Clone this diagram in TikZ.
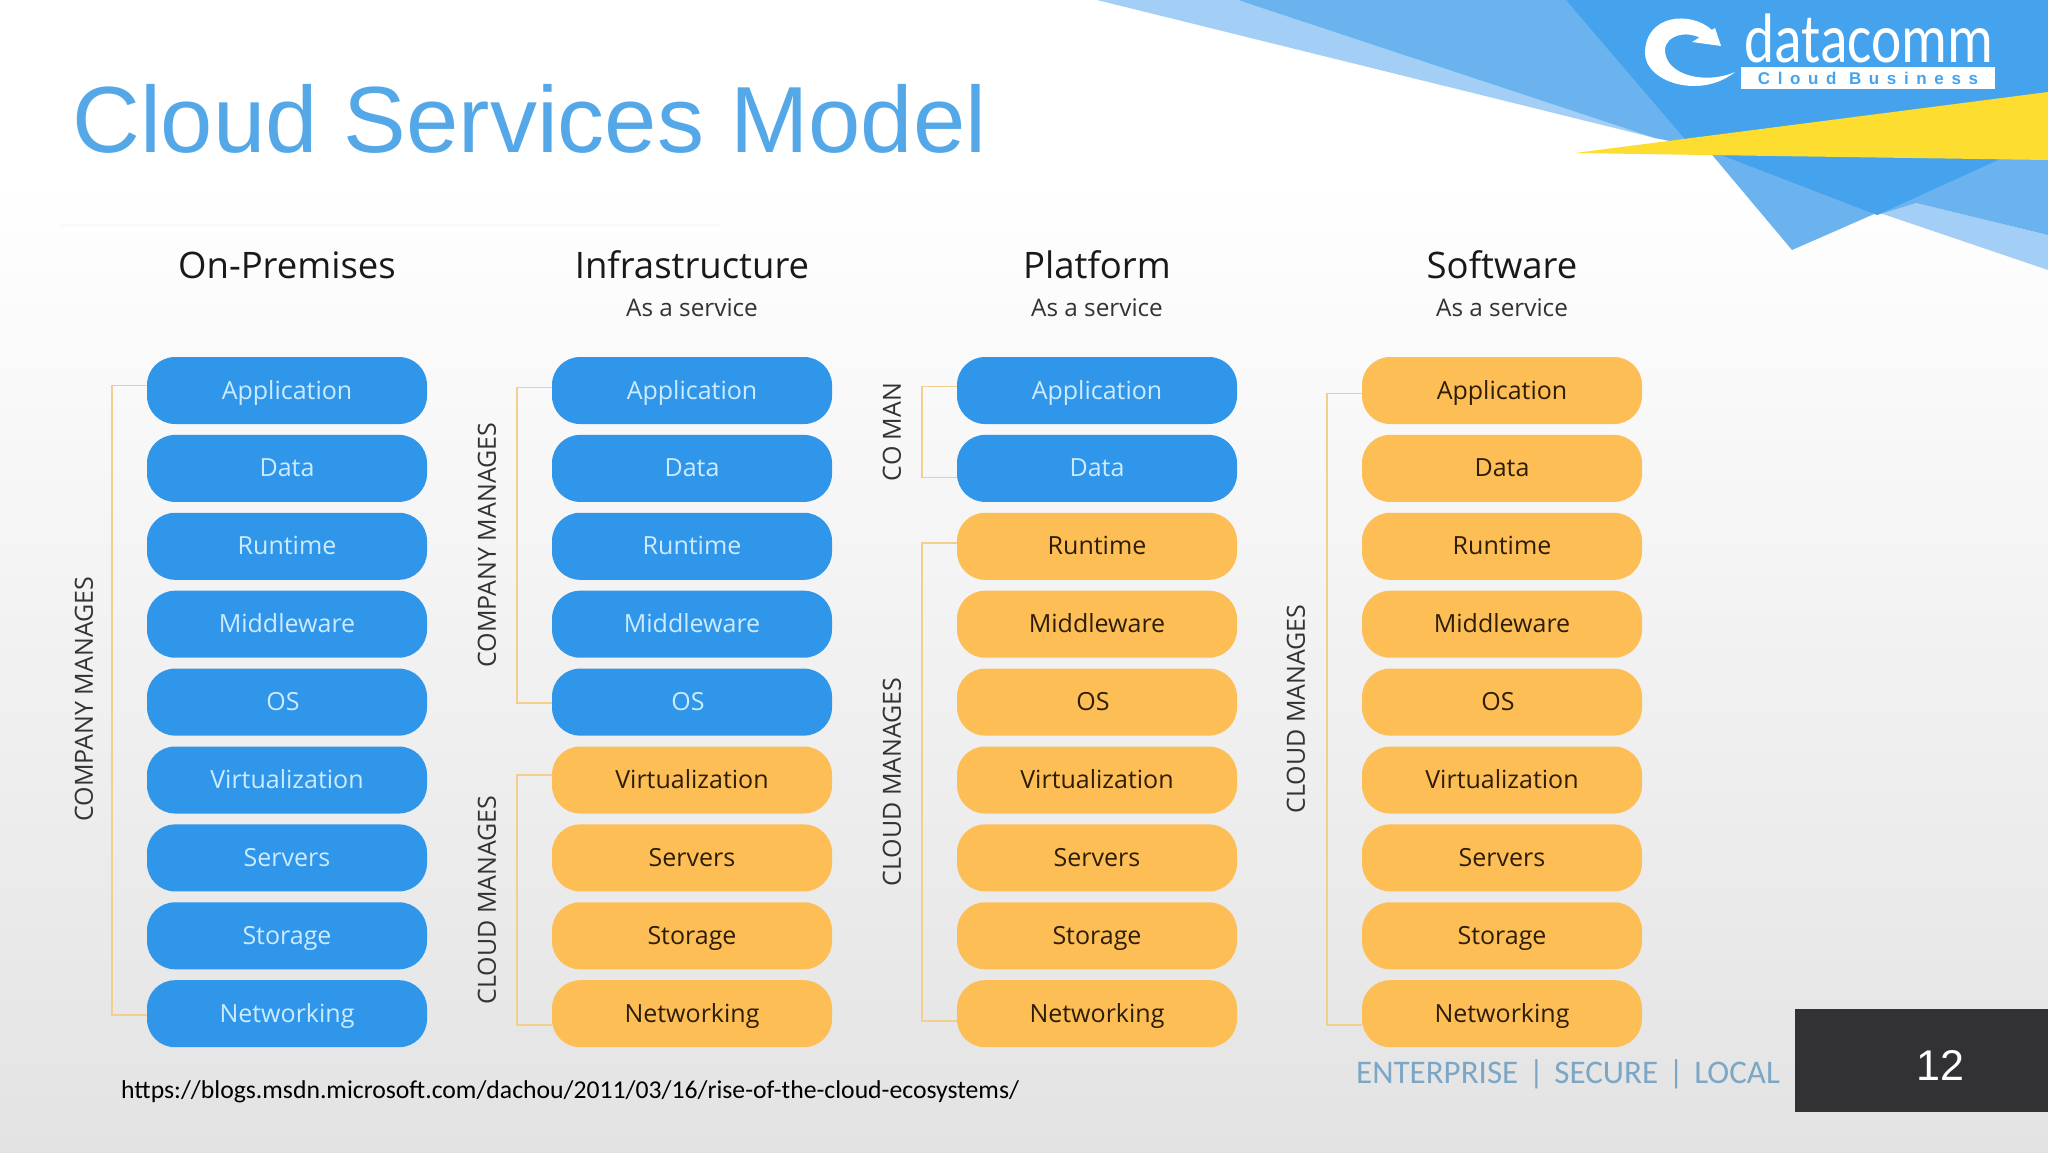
\documentclass[tikz,border=0pt]{standalone}
\usepackage{fontspec}
\setmainfont{Open Sans}
\newfontfamily\titlefont{Liberation Sans}
\newfontfamily\calfont{Carlito}
\newfontfamily\spacedfont[LetterSpace=45]{Liberation Sans}
\usetikzlibrary{calc}
\definecolor{pblue}{HTML}{3096EA}
\definecolor{porange}{HTML}{FDBF55}
\definecolor{ptextblue}{HTML}{CDEBFF}
\definecolor{ptextdark}{HTML}{2E1D08}
\definecolor{brcol}{HTML}{F3CE8E}
\definecolor{tbase}{HTML}{44A3EC}
\definecolor{tmid}{HTML}{6BB3EE}
\definecolor{tlight}{HTML}{A3CFF6}
\definecolor{tyellow}{HTML}{FDDD30}
\definecolor{titleblue}{HTML}{55A8E8}
\definecolor{footblue}{HTML}{7BA6C6}
\definecolor{numbox}{HTML}{323234}
\tikzset{
  x=1pt,y=-1pt,
  pill/.style={rounded corners=28pt,minimum width=280pt,minimum height=67pt,inner sep=0pt,text height=21pt,text depth=4pt,font=\fontsize{25}{30}\selectfont},
  bluepill/.style={pill,fill=pblue,text=ptextblue},
  orangepill/.style={pill,fill=porange,text=ptextdark},
  hdr/.style={font=\fontsize{36.5}{42}\selectfont,text=black!90,inner sep=0pt},
  subhdr/.style={font=\fontsize{24.3}{28}\selectfont,text=black!80,inner sep=0pt},
  side/.style={rotate=90,font=\fontsize{25}{30}\selectfont,text=black!80,inner sep=0pt},
  br/.style={draw=brcol,line width=1.8pt},
}
\begin{document}
\begin{tikzpicture}
\useasboundingbox (0,0) rectangle (2048,1152);
\fill[white] (0,0) rectangle (2048,1152);
\shade[top color=white,bottom color=black!11] (0,180) rectangle (2048,1152);
\fill[black!2] (60,224) rectangle (720,227);
% corner triangles
\fill[tlight] (1097,0) -- (1238,0) -- (1690,140) -- (1655,138) -- cycle;
\fill[tmid] (1238,0) -- (1566,0) -- (1686,133) -- (1690,145) -- (1655,138) -- cycle;
\fill[tbase] (1566,0) -- (2048,0) -- (2048,100) -- (1690,145) -- cycle;
\fill[tlight] (1877,212) -- (1916,203) -- (2048,235) -- (2048,270) -- cycle;
\fill[tmid] (1877,215) -- (2000,150) -- (2048,150) -- (2048,235) -- (1916,203) -- cycle;
\fill[tmid] (1708,150) -- (1792,250) -- (2020,150) -- cycle;
\fill[tbase] (1708,150) -- (1877,215) -- (2020,150) -- cycle;
\fill[tyellow] (1575,153) -- (2048,92) -- (2048,160) -- (1706,155) -- cycle;
% logo
\fill[white] (1712,30) .. controls (1690,10) and (1645,15) .. (1645,53)
  .. controls (1645,82) and (1700,100) .. (1735,72)
  .. controls (1705,85) and (1665,75) .. (1665,50)
  .. controls (1665,35) and (1690,28) .. (1706,42) -- cycle;
\fill[white] (1715,28) -- (1721,46) -- (1692,42) -- cycle;
\node[text=white,inner sep=0pt,xscale=0.82,font=\calfont\fontsize{70}{72}\selectfont] (logotext) at (1869,38) {datacomm};
\node[fill=white,minimum width=254pt,minimum height=22pt,inner sep=0pt,text=tbase,font=\spacedfont\bfseries\fontsize{17}{20}\selectfont] (logosub) at (1868,78) {Cloud Business};
% title
\node[anchor=west,inner sep=0pt,text=titleblue,font=\titlefont\fontsize{94}{100}\selectfont] (title) at (72,119) {Cloud Services Model};
% headers
\node[hdr] (h1) at (287,265) {On-Premises};
\node[hdr] (h2) at (692,265) {Infrastructure};
\node[hdr] (h3) at (1097,265) {Platform};
\node[hdr] (h4) at (1502,265) {Software};
\node[subhdr] (s2) at (692,308) {As a service};
\node[subhdr] (s3) at (1097,308) {As a service};
\node[subhdr] (s4) at (1502,308) {As a service};
% pills
\foreach \c/\xx/\nb in {1/287/9,2/692/5,3/1097/2,4/1502/0}{
  \foreach \n/\t in {0/Application,1/Data,2/Runtime,3/Middleware,4/{OS\kern8pt},5/Virtualization,6/Servers,7/Storage,8/Networking}{
    \pgfmathsetmacro\yy{390.5+77.9*\n}
    \ifnum\n<\nb\relax\def\st{bluepill}\else\def\st{orangepill}\fi
    \node[\st] (c\c r\n) at (\xx,\yy) {\t};
  }
}
% brackets
\draw[br] ([yshift=5pt]c1r0.west) -- ++(-35,0) |- ([yshift=-1pt]c1r8.west);
\draw[br] ([yshift=3pt]c2r0.west) -- ++(-35,0) |- ([yshift=-1pt]c2r4.west);
\draw[br] ([yshift=5pt]c2r5.west) -- ++(-35,0) |- ([yshift=-11pt]c2r8.west);
\draw[br] ([yshift=4pt]c3r0.west) -- ++(-35,0) |- ([yshift=-9pt]c3r1.west);
\draw[br] ([yshift=3pt]c3r2.west) -- ++(-35,0) |- ([yshift=-7pt]c3r8.west);
\draw[br] ([yshift=-3pt]c4r0.west) -- ++(-35,0) |- ([yshift=-11pt]c4r8.west);
% side labels
\node[side] (l1) at (84,699) {COMPANY MANAGES};
\node[side] (l2) at (487,545) {COMPANY MANAGES};
\node[side] (l3) at (487,900) {CLOUD MANAGES};
\node[side] (l4) at (892,432) {CO MAN};
\node[side] (l5) at (892,782) {CLOUD MANAGES};
\node[side] (l6) at (1296,709) {CLOUD MANAGES};
% footer
\node[anchor=west,inner sep=0pt,text=black,font=\calfont\fontsize{25.7}{30}\selectfont] (url) at (121,1092) {https://blogs.msdn.microsoft.com/dachou/2011/03/16/rise-of-the-cloud-ecosystems/};
\node[anchor=west,inner sep=0pt,text=footblue,font=\calfont\fontsize{33}{36}\selectfont] (tag) at (1356,1074) {ENTERPRISE\hspace{10.5pt}|\hspace{10.5pt}SECURE\hspace{10.5pt}|\hspace{10.5pt}LOCAL};
\node[fill=numbox,minimum width=253pt,minimum height=103pt,inner sep=0pt,anchor=north west] (box) at (1795,1009) {};
\node[text=white,inner sep=0pt,font=\titlefont\fontsize{43}{46}\selectfont] (num) at (1940,1065) {12};
\end{tikzpicture}
\end{document}
